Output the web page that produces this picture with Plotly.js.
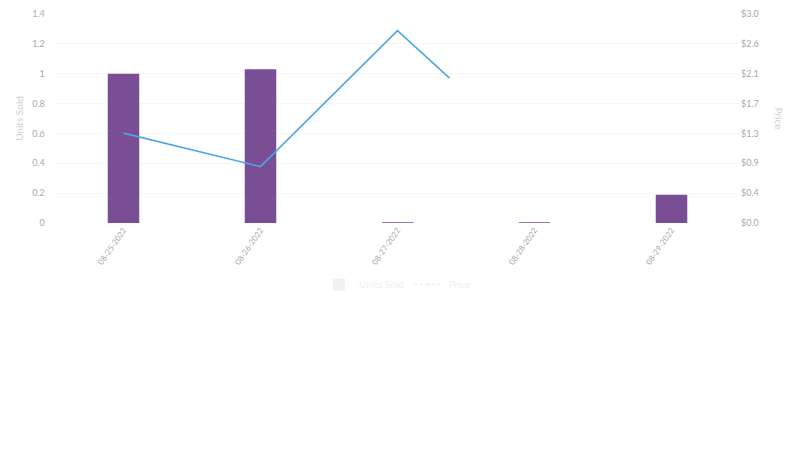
<!DOCTYPE html>
<html>
<head>
<meta charset="utf-8">
<script src="https://cdn.plot.ly/plotly-3.0.1.min.js"></script>
<style>
  html, body { margin: 0; padding: 0; background: #fff; }
  #chart { width: 800px; height: 450px; }
</style>
</head>
<body>
<div id="chart"></div>
<script>
// values
const dates = ['08-25-2022', '08-26-2022', '08-27-2022', '08-28-2022', '08-29-2022'];
const unitsSold = [1.0, 1.03, 0.005, 0.005, 0.19];
// the price line stops part way between 08-27 and 08-28 in the picture
const priceX = [0, 1, 2, 2.38];
const price = [1.29, 0.81, 2.76, 2.08];
const priceTicks = [0, 3 / 7, 6 / 7, 9 / 7, 12 / 7, 15 / 7, 18 / 7, 3];

const gridColor = '#f6f6f6';
const tickColor = '#a8a8a8';
const titleColor = '#d0d0d0';

const traces = [
  {
    type: 'bar',
    name: 'Units Sold',
    x: dates,
    y: unitsSold,
    width: 0.23,
    marker: { color: '#7a4e95' },
    showlegend: false,
    yaxis: 'y'
  },
  {
    type: 'scatter',
    mode: 'lines',
    name: 'Price',
    x: priceX,
    y: price,
    line: { color: '#4ea6e2', width: 1.6 },
    showlegend: false,
    xaxis: 'x2',
    yaxis: 'y2'
  },
  // faded legend entries, as in the picture
  {
    type: 'bar',
    name: 'Units Sold',
    x: dates,
    y: unitsSold,
    marker: { color: '#e2e2e2' },
    visible: 'legendonly'
  },
  {
    type: 'scatter',
    mode: 'lines+markers',
    name: 'Price',
    x: dates,
    y: price,
    line: { color: '#e2e2e2', width: 1.5, dash: 'dot' },
    marker: { color: '#e2e2e2', size: 3 },
    visible: 'legendonly'
  }
];

const layout = {
  width: 800,
  height: 450,
  margin: { l: 55, r: 60, t: 14, b: 227 },
  paper_bgcolor: '#fff',
  plot_bgcolor: '#fff',
  font: { family: 'Lato, "Open Sans", sans-serif', size: 9, color: tickColor },
  showlegend: true,
  legend: {
    orientation: 'h',
    x: 0.5, xanchor: 'center',
    y: -0.225, yanchor: 'top',
    itemwidth: 30,
    bgcolor: 'rgba(0,0,0,0)',
    font: { size: 10, color: '#e0e0e0' }
  },
  xaxis: {
    type: 'category',
    range: [-0.5, 4.5],
    tickangle: -55,
    showgrid: false,
    zeroline: false,
    showline: false,
    ticks: '',
    tickfont: { size: 8, color: tickColor }
  },
  xaxis2: {
    overlaying: 'x',
    range: [-0.5, 4.5],
    visible: false
  },
  yaxis: {
    range: [0, 1.4],
    dtick: 0.2,
    gridcolor: gridColor,
    zeroline: false,
    ticks: '',
    ticksuffix: '    ',
    tickfont: { size: 9, color: tickColor },
    title: { text: 'Units Sold', font: { size: 10, color: titleColor }, standoff: 6 }
  },
  yaxis2: {
    overlaying: 'y',
    side: 'right',
    range: [0, 3],
    tickmode: 'array',
    tickvals: priceTicks,
    ticktext: priceTicks.map(v => '$' + v.toFixed(1)),
    showgrid: false,
    zeroline: false,
    ticks: '',
    tickfont: { size: 9, color: tickColor }
  },
  annotations: [
    {
      text: 'Price',
      xref: 'paper', yref: 'paper',
      x: 1.07, y: 0.5,
      showarrow: false,
      textangle: 90,
      font: { size: 10, color: titleColor }
    }
  ]
};

Plotly.newPlot('chart', traces, layout, { displayModeBar: false, staticPlot: true });
</script>
</body>
</html>
